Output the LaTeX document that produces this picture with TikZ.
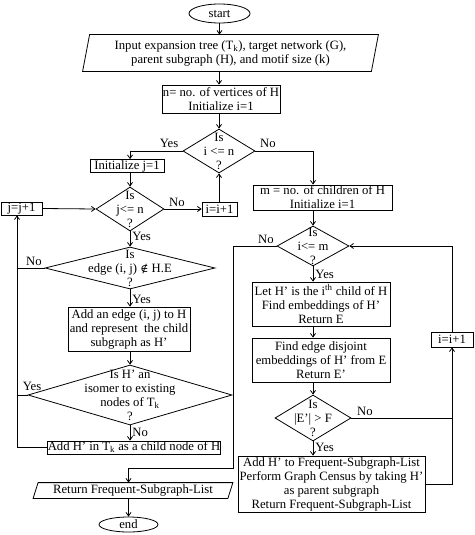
\documentclass[tikz,border=0pt]{standalone}
\usepackage{fontspec}
\setmainfont{Liberation Serif}
\newfontfamily\symfont{DejaVu Serif}
\usetikzlibrary{shapes.geometric,arrows.meta,calc}
\begin{document}
\begin{tikzpicture}[x=1pt,y=-1pt,
  font=\fontsize{12.7}{14}\selectfont,
  line width=0.8pt,
  box/.style={draw, rectangle, inner sep=0pt, align=center},
  dia/.style={draw, diamond, inner sep=0pt},
  term/.style={draw, ellipse, inner sep=0pt},
  txt/.style={inner sep=0pt, align=center},
  lbl/.style={inner sep=0pt},
  arr/.style={-{Straight Barb[length=3.5pt,width=5pt]}},
]
\useasboundingbox (0,0) rectangle (474,535);

% ---- left / main column
\node[term, minimum width=61, minimum height=19] (start) at (219.5,13.5) {start};
\node[txt, minimum width=295, minimum height=36] (inp) at (230.5,53)
  {Input expansion tree (T\textsubscript{k}), target network (G),\\parent subgraph (H), and motif size (k)};
\draw ([xshift=7pt]inp.north west) -- (inp.north east) -- ([xshift=-7pt]inp.south east) -- (inp.south west) -- cycle;
\node[box, minimum width=118, minimum height=28] (n) at (221,99) {n= no. of vertices of H\\Initialize i=1};
\node[dia, minimum width=72, minimum height=44] (d1) at (219,151) {};
\node[txt] (d1t) at (d1) {Is\\i {<}= n\\?};
\node[box, minimum width=74, minimum height=13] (j1) at (127,166) {Initialize j=1};
\node[dia, minimum width=68, minimum height=44] (d2) at (130,209) {};
\node[txt] (d2t) at (d2) {Is\\j{<}= n\\?};
\node[box, minimum width=41, minimum height=13] (jj) at (21.5,208.5) {j=j+1};
\node[box, minimum width=35, minimum height=14] (ii1) at (219.5,209) {i=i+1};
\node[dia, minimum width=170, minimum height=42] (d3) at (130,268) {};
\node[txt] (d3t) at (d3) {Is\\edge (i, j) {\symfont\fontsize{11}{14}\selectfont ∉} H.E\\?};
\node[box, minimum width=122, minimum height=44] (addedge) at (129,329) {Add an edge (i, j) to H\\and represent\ \ the child\\subgraph as H’};
\node[dia, minimum width=204, minimum height=60] (d4) at (130,395) {};
\node[txt] (d4t) at (d4) {Is H’ an\\isomer to existing\\nodes of T\textsubscript{k}\\?};
\node[box, minimum width=172, minimum height=13] (addTk) at (134,447.5) {Add H’ in T\textsubscript{k} as a child node of H};
\node[txt, minimum width=199, minimum height=15] (ret) at (133,490.5) {Return Frequent-Subgraph-List};
\draw ([xshift=5pt]ret.north west) -- (ret.north east) -- ([xshift=-5pt]ret.south east) -- (ret.south west) -- cycle;
\node[term, minimum width=59, minimum height=15] (end) at (128.5,524.5) {end};

% ---- right column
\node[box, minimum width=139, minimum height=25] (m) at (322.5,197.5) {m = no. of children of H\\Initialize i=1};
\node[dia, minimum width=72, minimum height=40] (d5) at (313,246) {};
\node[txt] (d5t) at (d5) {Is\\i{<}= m\\?};
\node[box, minimum width=138, minimum height=44] (letH) at (321,304) {Let H’ is the i\textsuperscript{th} child of H\\Find embeddings of H’\\Return E};
\node[box, minimum width=138, minimum height=44] (find) at (321,360) {Find edge disjoint\\embeddings of H’ from E\\Return E’};
\node[dia, minimum width=76, minimum height=46] (d6) at (313,418) {};
\node[txt] (d6t) at (d6) {Is\\|E’| > F\\?};
\node[box, minimum width=187, minimum height=56] (addF) at (331.5,484) {Add H’ to Frequent-Subgraph-List\\Perform Graph Census by taking H’\\as parent subgraph\\Return Frequent-Subgraph-List};
\node[box, minimum width=42, minimum height=15] (ii2) at (452,339.5) {i=i+1};

\coordinate (L) at (17,447.5);
\coordinate (R) at (233,468);

% ---- connectors
\draw[arr] (start.south) -- (start.south |- inp.north);
\draw[arr] (inp.south -| d1) -- (d1 |- n.north);
\draw[arr] (n.south -| d1) -- (d1.north);
\draw[arr] (d1.west) -| (j1.north -| d2);
\draw[arr] (j1.south -| d2) -- (d2.north);
\draw[arr] (d1.east) -| (m.north -| d5);
\draw[arr] (jj.east) -- (d2.west);
\draw[arr] (d2.east) -- (ii1.west);
\draw[arr] (ii1.north -| d1) -- (d1.south);
\draw[arr] (d2.south) -- (d3.north);
\draw[arr] (d3.south) -- (addedge.north -| d3);
\draw[arr] (addedge.south -| d4) -- (d4.north);
\draw[arr] (d4.south) -- (addTk.north -| d4);
\draw[arr] (addTk.west) -- (L) -- (L |- jj.south);
\draw (d3.west) -- (d3.west -| L);
\draw (d4.west) -- (d4.west -| L);
\draw[arr] (m.south -| d5) -- (d5.north);
\draw[arr] (d5.south) -- (letH.north -| d5);
\draw[arr] (letH.south -| d5) -- (find.north -| d5);
\draw[arr] (find.south -| d5) -- (d6.north);
\draw[arr] (d6.south) -- (addF.north -| d6);
\draw (d6.east) -- (d6.east -| ii2);
\draw[arr] (addF.east) -| (ii2.south);
\draw[arr] (ii2.north) |- (d5.east);
\draw[arr] (d5.west) -| (R) -| (ret.north -| end);
\draw[arr] (ret.south -| end) -- (end.north);

% ---- labels
\node[lbl] (y1) at (169,143) {Yes};
\node[lbl] (n1) at (268,143) {No};
\node[lbl] (n2) at (177,202) {No};
\node[lbl, anchor=west] (y2) at (132,236) {Yes};
\node[lbl] (n3) at (34,261) {No};
\node[lbl, anchor=west] (y3) at (132,299) {Yes};
\node[lbl] (y4) at (32,386) {Yes};
\node[lbl, anchor=west] (n4) at (132,432) {No};
\node[lbl] (n5) at (266,239) {No};
\node[lbl, anchor=west] (y5) at (315,274) {Yes};
\node[lbl] (n6) at (365,411) {No};
\node[lbl, anchor=west] (y6) at (315,447) {Yes};
\end{tikzpicture}
\end{document}
